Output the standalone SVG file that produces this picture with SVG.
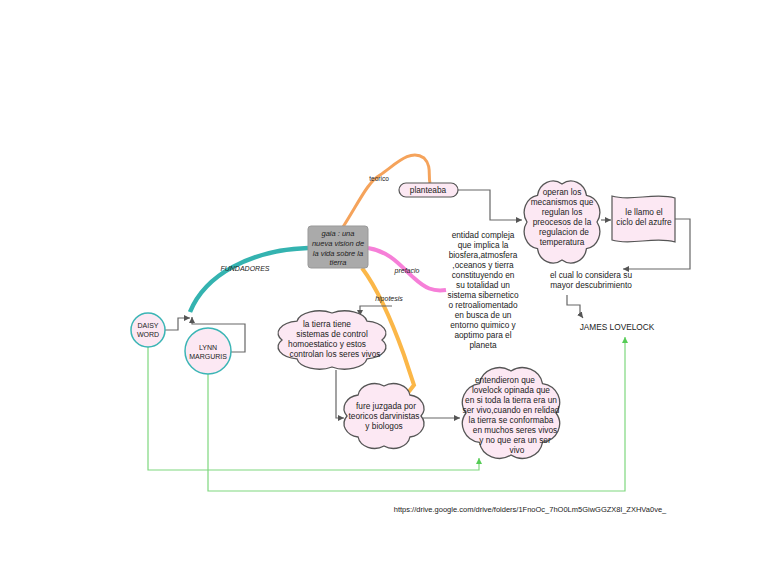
<svg xmlns="http://www.w3.org/2000/svg" width="768" height="576" viewBox="0 0 768 576">
<style>
text{font-family:"Liberation Sans",Arial,sans-serif;font-size:8.3px;fill:#222;text-anchor:middle}
.cl{fill:#fce8f3;stroke:#555;stroke-width:1.3}
.c{fill:none;stroke:#666;stroke-width:1.2;marker-end:url(#a)}
.g{fill:none;stroke:#7ed87e;stroke-width:1.2;marker-end:url(#ag)}
.it{font-style:italic;font-size:7px}
</style>
<defs>
<marker id="a" markerWidth="8" markerHeight="8" refX="6" refY="3" orient="auto" markerUnits="userSpaceOnUse"><path d="M0,0L6,3L0,6z" fill="#555"/></marker>
<marker id="ag" markerWidth="8" markerHeight="8" refX="6" refY="3" orient="auto" markerUnits="userSpaceOnUse"><path d="M0,0L6,3L0,6z" fill="#5c5"/></marker>
<path id="cloud" d="M1,0A0.45,0.45 0 0 1 0.7,0.7A0.45,0.45 0 0 1 0,1A0.45,0.45 0 0 1 -0.7,0.7A0.45,0.45 0 0 1 -1,0A0.45,0.45 0 0 1 -0.7,-0.7A0.45,0.45 0 0 1 0,-1A0.45,0.45 0 0 1 0.7,-0.7A0.45,0.45 0 0 1 1,0z" vector-effect="non-scaling-stroke"/>
</defs>
<rect width="768" height="576" fill="#fff"/>
<g id="connectors">
<path d="M343,227C360,200 368,182 380,175C395,165 410,148 424,158C432,166 428,176 430,183" fill="none" stroke="#f5a35b" stroke-width="3"/>
<path d="M308,248C250,250 205,275 190,312" fill="none" stroke="#34b3b0" stroke-width="4.5"/>
<path d="M368,248C392,252 402,268 414,278C425,288 433,292 446,290" fill="none" stroke="#f67fd8" stroke-width="4"/>
<path d="M362,268C380,292 395,330 404,355L414,385L407,394" fill="none" stroke="#fbb748" stroke-width="4"/>
<path class="c" d="M392,306L360,306L360,316"/>
<path class="c" d="M165,330L178,330L178,318L190,318"/>
<path class="c" d="M231,352L245,352L245,324L192,324L192,317"/>
<path class="c" d="M458,190L490,190L490,220L522,220"/>
<path class="c" d="M601,220L611,220"/>
<path class="c" d="M675,219L690,219L690,269L623,269"/>
<path class="c" d="M567,295L567,305L580,305L580,314L583,318"/>
<path class="c" d="M336,370L336,418L344,418"/>
<path class="c" d="M423,418L460,418"/>
<path class="g" d="M148,347L148,470L479,470L479,458"/>
<path class="g" d="M208,374L208,491L625,491L625,337"/>
<text x="379" y="181" style="font-size:6.5px">teorico</text>
<text x="245" y="271" class="it">FUNDADORES</text>
<text x="407" y="273" class="it">prefacio</text>
<text x="389" y="301" class="it">hipotesis</text>
</g>
<g id="gaia"><rect x="308" y="226" width="60" height="42" rx="3" fill="#aaa" stroke="#999"/>
<text class="it" style="font-size:7.5px" x="338" y="236">gaia : una</text><text class="it" style="font-size:7.5px" x="338" y="246">nueva vision de</text><text class="it" style="font-size:7.5px" x="338" y="256">la vida sobre la</text><text class="it" style="font-size:7.5px" x="338" y="265">tierra</text></g>
<g id="planteaba"><rect x="399" y="183" width="59" height="14" rx="7" fill="#fce8f3" stroke="#555" stroke-width="1.2"/><text x="428" y="193">planteaba</text></g>
<g id="operan"><use href="#cloud" class="cl" transform="translate(562,222) scale(35,38)"/>
<text x="562" y="195">operan los</text><text x="562" y="205">mecanismos que</text><text x="562" y="215">regulan los</text><text x="562" y="225">preocesos de la</text><text x="564" y="235">regulacion de</text><text x="562" y="245">temperatura</text></g>
<g id="azufre"><path d="M612,196C630,202 655,192 675,198L675,242C655,236 630,246 612,240z" fill="#fce8f3" stroke="#555" stroke-width="1.2"/>
<text x="644" y="215">le llamo el</text><text x="644" y="225">ciclo del azufre</text></g>
<g id="entidad"><text x="483" y="238">entidad compleja</text><text x="483" y="248">que implica la</text><text x="483" y="258">biosfera,atmosfera</text><text x="483" y="268">,oceanos y tierra</text><text x="483" y="278">constituyendo en</text><text x="483" y="288">su totalidad un</text><text x="483" y="298">sistema sibernetico</text><text x="483" y="308">o retroaliomentado</text><text x="483" y="318">en busca de un</text><text x="483" y="328">entorno quimico y</text><text x="483" y="338">aoptimo para el</text><text x="483" y="348">planeta</text></g>
<g id="elcual"><text x="591" y="278">el cual lo considera su</text><text x="591" y="288">mayor descubrimiento</text></g>
<g id="james"><text x="617" y="330">JAMES LOVELOCK</text></g>
<g id="daisy"><circle cx="148" cy="330" r="17" fill="#fce8f3" stroke="#3bb5b5" stroke-width="1.5"/><text x="148" y="328" style="font-size:7px">DAISY</text><text x="148" y="337" style="font-size:7px">WORD</text></g>
<g id="lynn"><circle cx="208" cy="351" r="23" fill="#fce8f3" stroke="#3bb5b5" stroke-width="1.5"/><text x="208" y="350" style="font-size:7px">LYNN</text><text x="208" y="359" style="font-size:7px">MARGURIS</text></g>
<g id="latierra"><use href="#cloud" class="cl" transform="translate(332,340) scale(50,27)"/>
<text x="327" y="327">la tierra tiene</text><text x="332" y="337">sistemas de control</text><text x="327" y="347">homoestatico y estos</text><text x="335" y="357">controlan los seres vivos</text></g>
<g id="fure"><use href="#cloud" class="cl" transform="translate(384,416) scale(37,30)"/>
<text x="386" y="409">fure juzgada por</text><text x="384" y="419">teoricos darvinistas</text><text x="384" y="429">y biologos</text></g>
<g id="entendieron"><use href="#cloud" class="cl" transform="translate(511,413) scale(45,42)"/>
<text x="505" y="383">entendieron que</text><text x="511" y="393">lovelock opinada que</text><text x="511" y="403">en si toda la tierra era un</text><text x="511" y="413">ser vivo,cuando en relidad</text><text x="511" y="423">la tierra se conformaba</text><text x="515" y="433">en muchos seres vivos</text><text x="515" y="443">y no que era un ser</text><text x="517" y="453">vivo</text></g>
<text x="530" y="512" style="font-size:7.5px">https://drive.google.com/drive/folders/1FnoOc_7hO0Lm5GiwGGZX8l_ZXHVa0ve_</text>
</svg>
